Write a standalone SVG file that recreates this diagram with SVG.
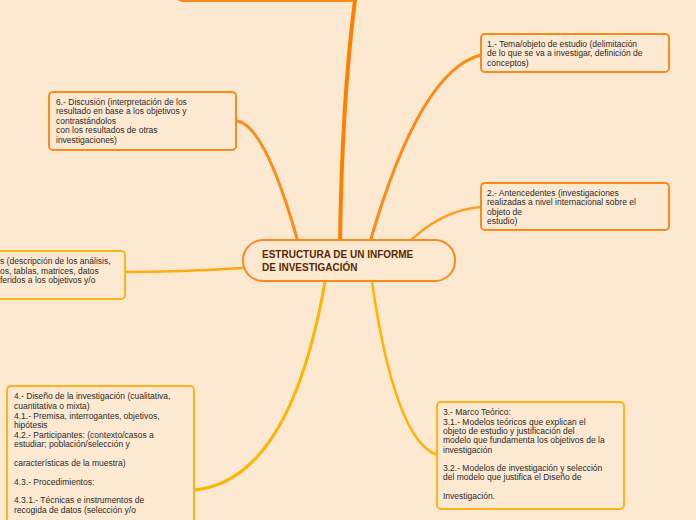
<svg xmlns="http://www.w3.org/2000/svg" width="696" height="520" viewBox="0 0 696 520">
<style>
.bx{fill:#fde8d2;stroke-width:2}
.o{stroke:#f98a1c}.y{stroke:#ffb31a}
.t{font-family:"Liberation Sans",Arial,sans-serif;font-size:8.5px;fill:#2b2b2b}
.c{fill:none;stroke-linecap:round}
</style>
<rect width="696" height="520" fill="#fde8d2"/>
<g id="connectors">
<path class="c" d="M340,242 Q342,100 355,0" stroke="#ff8000" stroke-width="4"/>
<path class="c" d="M370,242 Q420,70 481,55" stroke="#ff8a14" stroke-width="3"/>
<path class="c" d="M405,246 Q440,210 481,207" stroke="#ffa024" stroke-width="2.5"/>
<path class="c" d="M372,282 Q395,440 437,455" stroke="#ffb400" stroke-width="2.5"/>
<path class="c" d="M325,282 Q290,480 195,490" stroke="#ffb400" stroke-width="3"/>
<path class="c" d="M243,268 Q180,272 125,272" stroke="#ffaa10" stroke-width="2.5"/>
<path class="c" d="M298,242 Q265,125 237,121" stroke="#ff8a14" stroke-width="3"/>
</g>
<g id="top"><rect class="bx o" x="178" y="-20" width="177" height="21" rx="4"/></g>
<g id="center">
<rect x="243" y="240" width="212" height="41" rx="20" fill="#fde8d2" stroke="#f98a1c" stroke-width="2"/>
<text class="t" style="font-weight:bold;font-size:10px;fill:#5a2a00" x="262" y="258">ESTRUCTURA DE UN INFORME</text>
<text class="t" style="font-weight:bold;font-size:10px;fill:#5a2a00" x="262" y="271">DE INVESTIGACIÓN</text>
</g>
<g id="n1"><rect class="bx o" x="481" y="34" width="188" height="38" rx="4"/>
<text class="t" x="487" y="47">1.- Tema/objeto de estudio (delimitación</text>
<text class="t" x="487" y="56">de lo que se va a investigar, definición de</text>
<text class="t" x="487" y="66">conceptos)</text></g>
<g id="n2"><rect class="bx o" x="481" y="183" width="188" height="47" rx="4"/>
<text class="t" x="487" y="196">2.- Antencedentes (investigaciones</text>
<text class="t" x="487" y="205">realizadas a nivel internacional sobre el</text>
<text class="t" x="487" y="215">objeto de</text>
<text class="t" x="487" y="224">estudio)</text></g>
<g id="n3"><rect class="bx y" x="437" y="402" width="187" height="107" rx="4"/>
<text class="t" x="443" y="415">3.- Marco Teórico:</text>
<text class="t" x="443" y="425">3.1.- Modelos teóricos que explican el</text>
<text class="t" x="443" y="434">objeto de estudio y justificación del</text>
<text class="t" x="443" y="443">modelo que fundamenta los objetivos de la</text>
<text class="t" x="443" y="453">investigación</text>
<text class="t" x="443" y="471">3.2.- Modelos de investigación y selección</text>
<text class="t" x="443" y="480">del modelo que justifica el Diseño de</text>
<text class="t" x="443" y="499">Investigación.</text></g>
<g id="n4"><rect class="bx y" x="7" y="386" width="187" height="150" rx="4"/>
<text class="t" x="14" y="399">4.- Diseño de la investigación (cualitativa,</text>
<text class="t" x="14" y="409">cuantitativa o mixta)</text>
<text class="t" x="14" y="419">4.1.- Premisa, interrogantes, objetivos,</text>
<text class="t" x="14" y="428">hipótesis</text>
<text class="t" x="14" y="438">4.2.- Participantes: (contexto/casos a</text>
<text class="t" x="14" y="447">estudiar; población/selección y</text>
<text class="t" x="14" y="466">características de la muestra)</text>
<text class="t" x="14" y="485">4.3.- Procedimientos:</text>
<text class="t" x="14" y="503">4.3.1.- Técnicas e instrumentos de</text>
<text class="t" x="14" y="513">recogida de datos (selección y/o</text></g>
<g id="n5"><rect class="bx y" x="-20" y="251" width="145" height="48" rx="4"/>
<text class="t" x="0" y="264">s (descripción de los análisis,</text>
<text class="t" x="0" y="274">os, tablas, matrices, datos</text>
<text class="t" x="0" y="283">feridos a los objetivos y/o</text></g>
<g id="n6"><rect class="bx o" x="49" y="92" width="187" height="58" rx="4"/>
<text class="t" x="56" y="105">6.- Discusión (interpretación de los</text>
<text class="t" x="56" y="114">resultado en base a los objetivos y</text>
<text class="t" x="56" y="124">contrastándolos</text>
<text class="t" x="56" y="133">con los resultados de otras</text>
<text class="t" x="56" y="143">investigaciones)</text></g>
</svg>
